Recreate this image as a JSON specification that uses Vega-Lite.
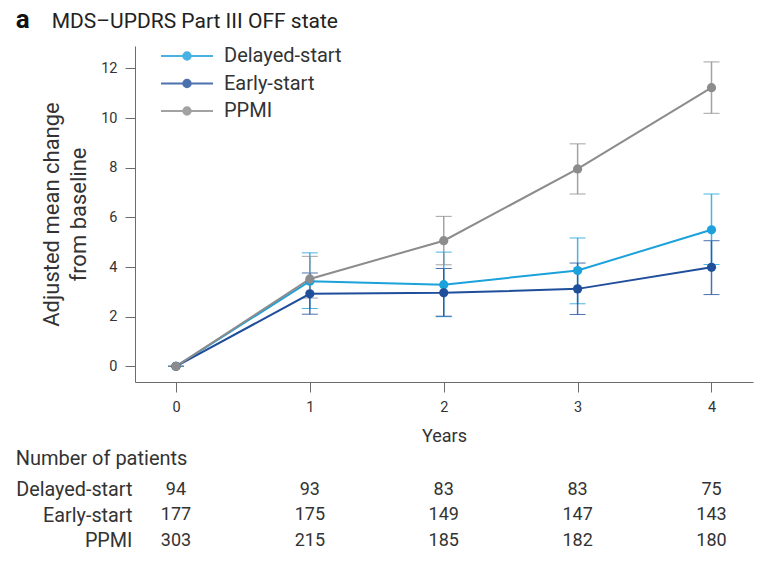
{
  "$schema": "https://vega.github.io/schema/vega-lite/v6.json",
  "padding": {"left": 15, "top": 7, "right": 8, "bottom": 5},
  "config": {
    "font": "Roboto",
    "view": {"stroke": null},
    "axis": {"grid": false, "domainColor": "#6b6b6b", "tickColor": "#6b6b6b", "labelColor": "#333333", "titleColor": "#333333", "titleFontWeight": "normal", "labelFont": "Roboto", "titleFont": "Roboto"},
    "title": {"font": "Roboto"}
  },
  "title": {
    "text": "a",
    "anchor": "start",
    "frame": "bounds",
    "fontSize": 26,
    "fontWeight": "bold",
    "color": "#111111",
    "offset": -22
  },
  "datasets": {
    "series": [
      {"group": "Delayed-start", "year": 0, "mean": 0, "lo": 0, "hi": 0},
      {"group": "Delayed-start", "year": 1, "mean": 3.43, "lo": 2.33, "hi": 4.57},
      {"group": "Delayed-start", "year": 2, "mean": 3.29, "lo": 2.0, "hi": 4.6},
      {"group": "Delayed-start", "year": 3, "mean": 3.86, "lo": 2.52, "hi": 5.17},
      {"group": "Delayed-start", "year": 4, "mean": 5.5, "lo": 4.1, "hi": 6.94},
      {"group": "Early-start", "year": 0, "mean": 0, "lo": 0, "hi": 0},
      {"group": "Early-start", "year": 1, "mean": 2.92, "lo": 2.1, "hi": 3.76},
      {"group": "Early-start", "year": 2, "mean": 2.96, "lo": 2.02, "hi": 3.94},
      {"group": "Early-start", "year": 3, "mean": 3.12, "lo": 2.09, "hi": 4.16},
      {"group": "Early-start", "year": 4, "mean": 3.99, "lo": 2.89, "hi": 5.06},
      {"group": "PPMI", "year": 0, "mean": 0, "lo": 0, "hi": 0},
      {"group": "PPMI", "year": 1, "mean": 3.52, "lo": 2.75, "hi": 4.43},
      {"group": "PPMI", "year": 2, "mean": 5.06, "lo": 4.09, "hi": 6.04},
      {"group": "PPMI", "year": 3, "mean": 7.95, "lo": 6.94, "hi": 8.96},
      {"group": "PPMI", "year": 4, "mean": 11.22, "lo": 10.19, "hi": 12.26}
    ],
    "counts": [
      {"group": "Delayed-start", "year": 0, "n": 94},
      {"group": "Delayed-start", "year": 1, "n": 93},
      {"group": "Delayed-start", "year": 2, "n": 83},
      {"group": "Delayed-start", "year": 3, "n": 83},
      {"group": "Delayed-start", "year": 4, "n": 75},
      {"group": "Early-start", "year": 0, "n": 177},
      {"group": "Early-start", "year": 1, "n": 175},
      {"group": "Early-start", "year": 2, "n": 149},
      {"group": "Early-start", "year": 3, "n": 147},
      {"group": "Early-start", "year": 4, "n": 143},
      {"group": "PPMI", "year": 0, "n": 303},
      {"group": "PPMI", "year": 1, "n": 215},
      {"group": "PPMI", "year": 2, "n": 185},
      {"group": "PPMI", "year": 3, "n": 182},
      {"group": "PPMI", "year": 4, "n": 180}
    ]
  },
  "spacing": 3,
  "resolve": {"scale": {"x": "independent", "y": "independent", "color": "independent"}},
  "vconcat": [
    {
      "width": 618,
      "height": 336,
      "title": {"text": "MDS–UPDRS Part III OFF state", "anchor": "start", "frame": "bounds", "dx": 11, "fontSize": 21, "fontWeight": "normal", "color": "#222222", "offset": 14},
      "data": {"name": "series"},
      "encoding": {
        "x": {
          "field": "year", "type": "quantitative",
          "scale": {"domain": [-0.306, 4.31], "nice": false, "zero": false},
          "axis": {"values": [0, 1, 2, 3, 4], "format": "d", "title": "Years", "tickSize": 10, "labelPadding": 8, "labelFontSize": 14.5, "titleFontSize": 18, "titlePadding": 14}
        },
        "color": {
          "field": "group", "type": "nominal",
          "scale": {"domain": ["Delayed-start", "Early-start", "PPMI"], "range": ["#1ba1db", "#1f4e9b", "#8c8c8c"]}
        }
      },
      "layer": [
        {
          "mark": {"type": "errorbar", "ticks": {"size": 16, "opacity": 0.8}, "rule": {"opacity": 0.8, "strokeWidth": 1.5}},
          "encoding": {
            "y": {
              "field": "lo", "type": "quantitative",
              "scale": {"domain": [-0.63, 12.9], "nice": false, "zero": false},
              "axis": {"values": [0, 2, 4, 6, 8, 10, 12], "title": ["Adjusted mean change", "from baseline"], "tickSize": 10, "labelPadding": 8, "labelFontSize": 14.5, "titleFontSize": 22, "titleLineHeight": 27, "titlePadding": 10}
            },
            "y2": {"field": "hi"}
          }
        },
        {
          "mark": {"type": "line", "strokeWidth": 2},
          "encoding": {"y": {"field": "mean", "type": "quantitative"}}
        },
        {
          "mark": {"type": "point", "filled": true, "size": 85, "opacity": 1},
          "encoding": {
            "y": {"field": "mean", "type": "quantitative"},
            "color": {
              "field": "group", "type": "nominal",
              "legend": {
                "orient": "none", "legendX": 42, "legendY": 0, "title": null,
                "symbolType": "M-3,0L3,0M0.43,0A0.43,0.43,0,1,1,-0.43,0A0.43,0.43,0,1,1,0.43,0Z",
                "symbolSize": 300, "symbolStrokeWidth": 2,
                "labelFontSize": 20, "labelColor": "#333333", "labelOffset": 27,
                "rowPadding": 7.5, "padding": 0
              }
            }
          }
        }
      ]
    },
    {
      "width": 618,
      "height": 76.5,
      "data": {"name": "counts"},
      "title": {"text": "Number of patients", "anchor": "start", "frame": "bounds", "fontSize": 20, "fontWeight": "normal", "color": "#333333", "offset": 8},
      "mark": {"type": "text", "fontSize": 18, "color": "#333333"},
      "encoding": {
        "x": {"field": "year", "type": "quantitative", "scale": {"domain": [-0.306, 4.31], "nice": false, "zero": false}, "axis": null},
        "y": {"field": "group", "type": "nominal", "sort": ["Delayed-start", "Early-start", "PPMI"], "scale": {"paddingInner": 0, "paddingOuter": 0}, "axis": {"title": null, "domain": false, "ticks": false, "labelPadding": 3, "labelFontSize": 19.8, "labelColor": "#333333"}},
        "text": {"field": "n", "type": "quantitative"}
      }
    }
  ]
}
